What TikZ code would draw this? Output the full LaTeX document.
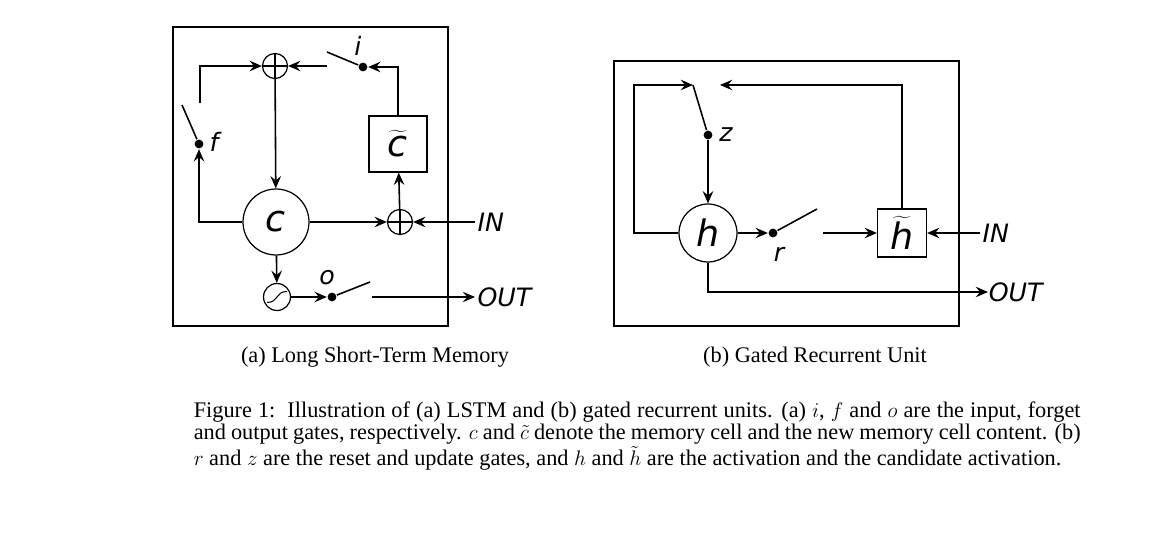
\documentclass[tikz,border=0pt]{standalone}
\usepackage{fontspec}
\setmainfont{Liberation Serif}
\newfontfamily\diagfont{DejaVu Sans}
\usetikzlibrary{arrows.meta,positioning}
\begin{document}
\begin{tikzpicture}[
        x=0.02cm, y=-0.02cm,
        line width=0.9pt,
        arr/.style = {-{Stealth[length=7pt,width=6pt,inset=2.5pt]}},
        frame/.style = {draw, line width=0.8pt},
        plus/.style = {circle, draw, line width=0.7pt, minimum size=0.5cm, inner sep=0pt,
            path picture={\draw[line width=0.7pt] (path picture bounding box.north) -- (path picture bounding box.south)
                (path picture bounding box.west) -- (path picture bounding box.east);}},
        sigm/.style = {circle, draw, line width=0.7pt, minimum size=0.54cm, inner sep=0pt,
            path picture={\draw[line width=0.6pt] ([shift={(-0.2cm,-0.11cm)}]path picture bounding box.center)
                .. controls +(0.24cm,0cm) and +(-0.24cm,0cm) .. ([shift={(0.2cm,0.11cm)}]path picture bounding box.center);}},
        cell/.style = {circle, draw, line width=0.7pt, inner sep=0pt, font=\diagfont\itshape},
        cand/.style = {draw, line width=0.7pt, inner sep=0pt, font=\diagfont\itshape\huge},
        dot/.style = {circle, fill, inner sep=0pt, minimum size=5pt},
        lbl/.style = {font=\diagfont\itshape\Large, inner sep=1pt},
        capt/.style = {font=\fontsize{12.7}{12.5}\selectfont},
    ]
    \useasboundingbox (0,0) rectangle (1166,536);

    % (a) LSTM
    \draw[frame] (173,27) rectangle (448,326);
    \node[plus] (ptop) at (275,66) {};
    \node[cell, minimum size=1.32cm, font=\diagfont\itshape\huge] (c) at (276,222) {c};
    \node[plus] (pin) at (400,222) {};
    \node[cand, minimum width=1.16cm, minimum height=1.12cm] (ct) at (398,144) {$\widetilde{\mbox{\diagfont\itshape c}}$};
    \node[sigm] (sg) at (277,297) {};
    \node[dot] (di) at (363,67) {};
    \node[dot] (df) at (199,144) {};
    \node[dot] (do) at (332,297) {};
    \coordinate (li) at (327,52);
    \coordinate (lf) at (182,105);
    \coordinate (lo) at (370,282);
    \coordinate (ftop) at (200,103);
    \coordinate (oend) at (372,297);
    \coordinate (inA) at (475,222);
    \coordinate (outA) at (475,297);
    \node[lbl, right] at (inA) {IN};
    \node[lbl, right] at (outA) {OUT};
    \node[lbl] at (358,46) {i};
    \node[lbl] at (214,142) {f};
    \node[lbl] at (327,278) {o};

    \draw[arr] (ftop) |- (ptop);
    \draw[arr] (li |- ptop) -- (ptop);
    \draw (di) -- (li);
    \draw[arr] (ct.north) |- (di);
    \draw[arr] (ptop) -- (c);
    \draw[arr] (c) -- (pin);
    \draw[arr] (inA) -- (pin);
    \draw[arr] (pin) -- (ct);
    \draw[arr] (c.west) -| (df);
    \draw (df) -- (lf);
    \draw[arr] (c) -- (sg);
    \draw[arr] (sg) -- (do);
    \draw (do) -- (lo);
    \draw[arr] (oend) -- (outA);

    % (b) GRU
    \draw[frame] (614,61) rectangle (959,326);
    \node[cell, minimum size=1.16cm, font=\diagfont\itshape\huge] (h) at (708,233) {h};
    \node[cand, minimum width=0.98cm, minimum height=0.96cm] (ht) at (902,233) {$\widetilde{\mbox{\diagfont\itshape h}}$};
    \node[dot] (dz) at (708,135) {};
    \node[dot] (dr) at (773,233) {};
    \coordinate (lz) at (693,85);
    \coordinate (zr) at (720,85);
    \coordinate (lr) at (817,209);
    \coordinate (rend) at (823,233);
    \coordinate (inB) at (980,233);
    \coordinate (outB) at (988,292);
    \node[lbl, right] at (inB) {IN};
    \node[lbl, right, inner sep=0pt] at (outB) {OUT};
    \node[lbl] at (726,135) {z};
    \node[lbl] at (779,254) {r};

    \draw[arr] (h.west) -- (634,233) |- (lz);
    \draw (lz) -- (dz);
    \draw[arr] (dz) -- (h);
    \draw[arr] (ht.north) |- (zr);
    \draw[arr] (h) -- (dr);
    \draw (dr) -- (lr);
    \draw[arr] (rend) -- (ht);
    \draw[arr] (inB) -- (ht);
    \draw[arr] (h.south) |- (outB);

    % captions
    \node[capt] (capa) at (375,357) {(a) Long Short-Term Memory};
    \node[capt] (capb) at (815,357) {(b) Gated Recurrent Unit};
    \node[capt, anchor=north west, align=justify, text width=17.74cm, inner sep=0pt] (cap) at (193,401)
        {\parfillskip=0pt Figure 1:\ \ Illustration of (a) LSTM and (b) gated recurrent units. (a) $i$, $f$ and $o$ are the input, forget\linebreak
         and output gates, respectively. $c$ and $\tilde{c}$ denote the memory cell and the new memory cell content. (b)\linebreak
         $r$ and $z$ are the reset and update gates, and $h$ and $\tilde{h}$ are the activation and the candidate activation.};
\end{tikzpicture}
\end{document}
